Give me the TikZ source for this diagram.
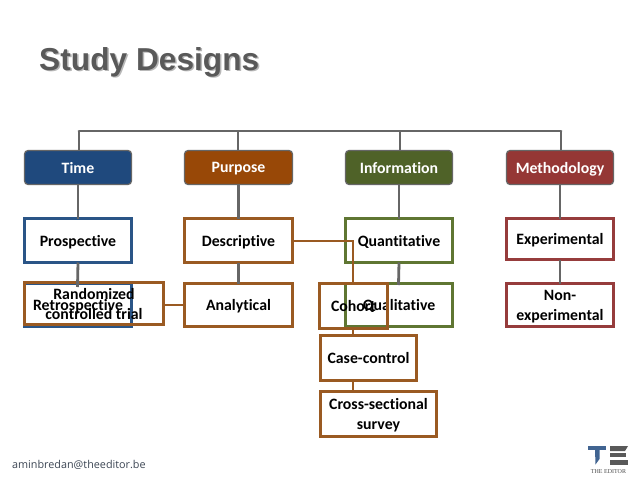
\documentclass[tikz,border=0pt]{standalone}
\usepackage{fontspec}
\setmainfont[Ligatures=NoCommon]{Carlito}
\newfontfamily\titlefont{Liberation Sans}
\newfontfamily\mailfont{Open Sans}
\newfontfamily\logofont{Liberation Serif}
\definecolor{cblue}{HTML}{1F497D}
\definecolor{corange}{HTML}{984807}
\definecolor{cgreen}{HTML}{4F6228}
\definecolor{cred}{HTML}{953735}
\definecolor{bblue}{HTML}{2A5587}
\definecolor{borange}{HTML}{9A5A22}
\definecolor{bgreen}{HTML}{5F7632}
\definecolor{bred}{HTML}{963C3C}
\definecolor{cline}{HTML}{666666}
\definecolor{ctitle}{HTML}{595959}
\definecolor{cmail}{HTML}{3C4654}
\tikzset{
  x=1pt,y=-1pt,
  conn/.style={draw=cline,line width=2.8pt},
  oconn/.style={draw=borange,line width=2.8pt},
  head/.style={rounded corners=3.5pt,outer sep=0pt,draw=cline,line width=1.2pt,text=white,font=\bfseries\fontsize{15.8}{19}\selectfont,align=center,inner sep=0pt,text depth=0pt},
  sub/.style={line width=2.5pt,outer sep=0pt,fill=white,text=black,font=\bfseries\fontsize{15.8}{20}\selectfont,align=center,inner sep=0pt,text depth=0pt},
  sublap/.style={sub,fill=none},
}
\newcommand{\bx}[7]{\node[#1,minimum width=#4-#2,minimum height=#5-#3,anchor=north west] (#6) at (#2+0.5,#3+0.5) {#7};}
\begin{document}
\begin{tikzpicture}
\useasboundingbox (0,0) rectangle (638,479);
\fill[white] (0,0) rectangle (638,479);
\coordinate (busL) at (79,131);
\coordinate (busA) at (238,131);
\coordinate (busB) at (400,131);
\coordinate (busR) at (561,131);
% heads
\bx{head,fill=cblue}{24}{150}{131}{184}{time}{Time}
\bx{head,fill=corange}{184}{150}{292}{184}{purpose}{Purpose}
\bx{head,fill=cgreen}{345}{150}{452}{184}{info}{Information}
\bx{head,fill=cred}{506}{150}{613}{184}{meth}{Methodology}
% sub boxes
\bx{sub,draw=bblue}{24}{218}{131}{262}{prosp}{Prospective}
\bx{sub,draw=bblue}{24}{283}{131}{326}{retro}{Retrospective}
\bx{sub,draw=borange}{184}{218}{292}{262}{descr}{Descriptive}
\bx{sub,draw=borange}{184}{283}{292}{326}{analy}{Analytical}
\bx{sub,draw=bgreen}{345}{218}{452}{262}{quant}{Quantitative}
\bx{sub,draw=bgreen}{345}{283}{452}{326}{qual}{Qualitative}
\bx{sub,draw=bred}{506}{218}{613}{259}{exper}{Experimental}
\bx{sub,draw=bred}{506}{283}{613}{326}{nonex}{Non-\\experimental}
\bx{sublap,draw=borange}{24}{282}{163}{324}{rand}{Randomized\\controlled trial}
\bx{sublap,draw=borange}{319}{283}{387}{328}{cohort}{Cohort}
\bx{sub,draw=borange}{320}{335}{416}{380}{casec}{Case-control}
\bx{sub,draw=borange}{320}{391}{436}{436}{cross}{Cross-sectional\\survey}
% connectors
\draw[conn,line cap=round] (busL) -- (busR);
\draw[conn] (busL) -- (busL |- time.north);
\draw[conn] (busA) -- (busA |- purpose.north);
\draw[conn] (busB) -- (busB |- info.north);
\draw[conn] (busR) -- (busR |- meth.north);
\draw[conn] (time.south) -- (prosp.north);
\draw[conn] (purpose.south) -- (descr.north);
\draw[conn] (info.south) -- (quant.north);
\draw[conn] (meth.south) -- (exper.north);
\coordinate (pe) at (77.5,287);
\coordinate (qe) at (398.5,285);
\draw[conn] (prosp.south) -- (pe);
\draw[conn] (quant.south) -- (qe);
\draw[conn] (descr.south) -- (analy.north);
\draw[conn] (exper.south) -- (nonex.north);
\coordinate (elbow) at (353,241);
\coordinate (cotop) at (353,283);
\draw[oconn] (descr.east |- elbow) -- (elbow) -- (cotop);
\draw[oconn] (analy.west) -- (rand.east |- analy.west);
\coordinate (cobot) at (353,328);
\coordinate (cat) at (353,335);
\coordinate (cab) at (353,380);
\coordinate (crt) at (353,391);
\draw[oconn] (cobot) -- (cat);
\draw[oconn] (cab) -- (crt);
% title
\node[anchor=base west,inner sep=0pt,text=black!28,font=\titlefont\bfseries\fontsize{31.7}{36}\selectfont] (titleshadow) at (40.5,71.5) {Study Designs};
\node[anchor=base west,inner sep=0pt,text=ctitle,font=\titlefont\bfseries\fontsize{31.7}{36}\selectfont] (title) at (39,70) {Study Designs};
% footer
\node[anchor=base west,inner sep=0pt,text=cmail,font=\mailfont\fontsize{10.8}{14}\selectfont] (mail) at (12,468) {aminbredan@theeditor.be};
% logo
\fill[cblue!85] (588,446) -- (606,446) -- (606,449.5) -- (588,449.5) -- cycle;
\fill[cblue!85] (595,449.5) -- (599.5,449.5) -- (599.5,459) -- (595.5,464.5) -- cycle;
\fill[black!65] (610,446) -- (628,446) -- (625,451) -- (610,451) -- cycle;
\fill[black!65] (610,453) -- (626,453) -- (626,457) -- (610,457) -- cycle;
\fill[black!65] (610,459.5) -- (628,459.5) -- (628,464.5) -- (610,464.5) -- cycle;
\node[anchor=center,inner sep=0pt,text=black!70,font=\logofont\fontsize{6}{7}\selectfont] (logo) at (608.5,471.5) {THE EDITOR};
\end{tikzpicture}
\end{document}
